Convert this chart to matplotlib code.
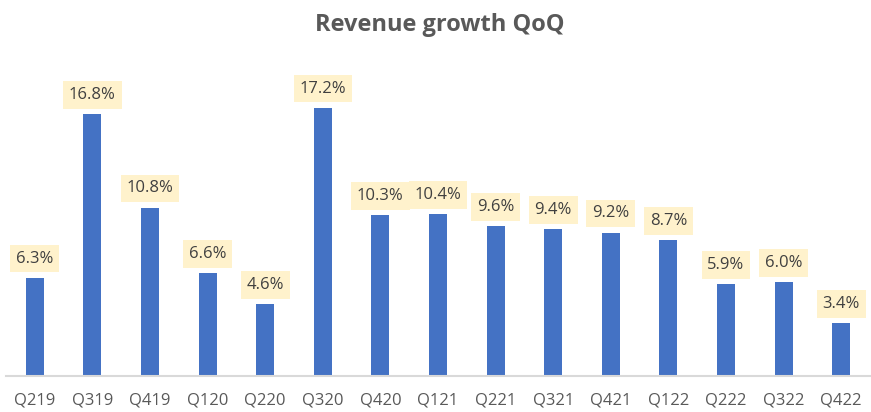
import matplotlib
matplotlib.use("Agg")
from matplotlib import pyplot as plt

quarters = ["Q219", "Q319", "Q419", "Q120", "Q220", "Q320", "Q420", "Q121",
            "Q221", "Q321", "Q421", "Q122", "Q222", "Q322", "Q422"]
growth = [6.3, 16.8, 10.8, 6.6, 4.6, 17.2, 10.3, 10.4, 9.6, 9.4, 9.2, 8.7, 5.9, 6.0, 3.4]

plt.rcParams['font.family'] = ['Open Sans', 'DejaVu Sans']

fig = plt.figure(figsize=(8.71, 4.12), dpi=100)
ax = fig.add_axes([6 / 871, 36 / 412, 864 / 871, 340 / 412])

x = range(len(quarters))
bars = ax.bar(x, growth, width=0.31, color="#4472C4")

for xi, v in zip(x, growth):
    ax.annotate(f"{v:.1f}%", (xi, v), xytext=(0, 8), textcoords="offset points",
                ha="center", va="bottom", fontsize=12, color="#404040",
                bbox=dict(boxstyle="square,pad=0.35", fc="#FFF2CC", ec="none"))

ax.set_xlim(-0.5, len(quarters) - 0.5)
ax.set_ylim(0, 21.8)
ax.set_xticks(list(x))
ax.set_xticklabels(quarters, fontsize=12, color="#595959")
ax.set_yticks([])
for s in ["top", "right", "left"]:
    ax.spines[s].set_visible(False)
ax.spines["bottom"].set_color("#D9D9D9")
ax.spines["bottom"].set_linewidth(1.5)
ax.tick_params(axis="x", length=0, pad=12)

fig.text(0.505, 0.94, "Revenue growth QoQ", ha="center", va="center",
         fontsize=17, fontweight="bold", color="#595959")

fig.savefig("out.png", dpi=100)
